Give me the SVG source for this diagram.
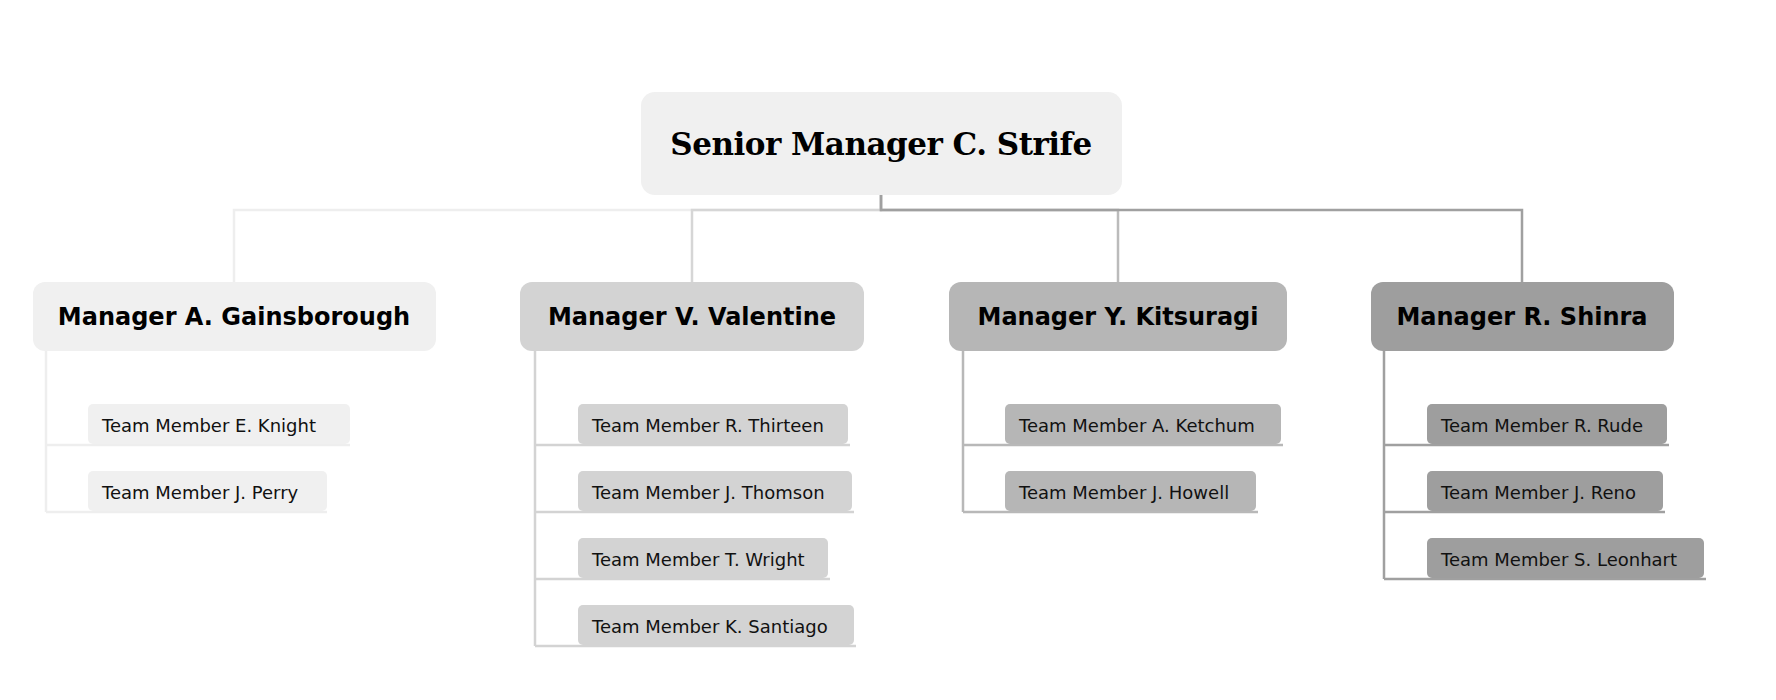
<svg xmlns="http://www.w3.org/2000/svg" width="1776" height="700" viewBox="0 0 1776 700">
<style>
.mt{font-family:"DejaVu Sans",sans-serif;font-weight:bold;font-size:24px;text-anchor:middle;dominant-baseline:central;fill:#000}
.tt{font-family:"DejaVu Sans",sans-serif;font-size:18px;dominant-baseline:central;fill:#111}
.st{font-family:"DejaVu Serif",serif;font-weight:bold;font-size:31px;text-anchor:middle;dominant-baseline:central;fill:#000;letter-spacing:-0.5px}
.c{fill:none;stroke-width:2.5}
.a{fill:#f0f0f0}.v{fill:#d3d3d3}.y{fill:#b6b6b6}.r{fill:#9e9e9e}
</style>
<rect width="1776" height="700" fill="#fff"/>
<g id="connectors">
<path class="c" stroke="#eeeeee" d="M881 195V210H234V282"/>
<path class="c" stroke="#d6d6d6" d="M881 195V210H692V282"/>
<path class="c" stroke="#bbbbbb" d="M881 195V210H1118V282"/>
<path class="c" stroke="#a0a0a0" d="M881 195V210H1522V282"/>
<path class="c" stroke="#eeeeee" d="M46 351V512M46 445H350M46 512H327"/>
<path class="c" stroke="#d3d3d3" d="M535 351V646M535 445H850M535 512H854M535 579H830M535 646H856"/>
<path class="c" stroke="#b8b8b8" d="M963 351V512M963 445H1283M963 512H1258"/>
<path class="c" stroke="#a0a0a0" d="M1384 351V579M1384 445H1669M1384 512H1665M1384 579H1706"/>
</g>
<g id="senior"><rect x="641" y="92" width="481" height="103" rx="14" fill="#f0f0f0"/><text class="st" x="881" y="144">Senior Manager C. Strife</text></g>
<g id="mgr-a"><rect class="a" x="33" y="282" width="403" height="69" rx="12"/><text class="mt" x="234" y="317">Manager A. Gainsborough</text></g>
<g id="mgr-v"><rect class="v" x="520" y="282" width="344" height="69" rx="12"/><text class="mt" x="692" y="317">Manager V. Valentine</text></g>
<g id="mgr-y"><rect class="y" x="949" y="282" width="338" height="69" rx="12"/><text class="mt" x="1118" y="317">Manager Y. Kitsuragi</text></g>
<g id="mgr-r"><rect class="r" x="1371" y="282" width="303" height="69" rx="12"/><text class="mt" x="1522" y="317">Manager R. Shinra</text></g>
<g id="a1"><rect class="a" x="88" y="404" width="262" height="40" rx="5"/><text class="tt" x="102" y="425">Team Member E. Knight</text></g>
<g id="a2"><rect class="a" x="88" y="471" width="239" height="40" rx="5"/><text class="tt" x="102" y="492">Team Member J. Perry</text></g>
<g id="v1"><rect class="v" x="578" y="404" width="270" height="40" rx="5"/><text class="tt" x="592" y="425">Team Member R. Thirteen</text></g>
<g id="v2"><rect class="v" x="578" y="471" width="274" height="40" rx="5"/><text class="tt" x="592" y="492">Team Member J. Thomson</text></g>
<g id="v3"><rect class="v" x="578" y="538" width="250" height="40" rx="5"/><text class="tt" x="592" y="559">Team Member T. Wright</text></g>
<g id="v4"><rect class="v" x="578" y="605" width="276" height="40" rx="5"/><text class="tt" x="592" y="626">Team Member K. Santiago</text></g>
<g id="y1"><rect class="y" x="1005" y="404" width="276" height="40" rx="5"/><text class="tt" x="1019" y="425">Team Member A. Ketchum</text></g>
<g id="y2"><rect class="y" x="1005" y="471" width="251" height="40" rx="5"/><text class="tt" x="1019" y="492">Team Member J. Howell</text></g>
<g id="r1"><rect class="r" x="1427" y="404" width="240" height="40" rx="5"/><text class="tt" x="1441" y="425">Team Member R. Rude</text></g>
<g id="r2"><rect class="r" x="1427" y="471" width="236" height="40" rx="5"/><text class="tt" x="1441" y="492">Team Member J. Reno</text></g>
<g id="r3"><rect class="r" x="1427" y="538" width="277" height="40" rx="5"/><text class="tt" x="1441" y="559">Team Member S. Leonhart</text></g>
</svg>
